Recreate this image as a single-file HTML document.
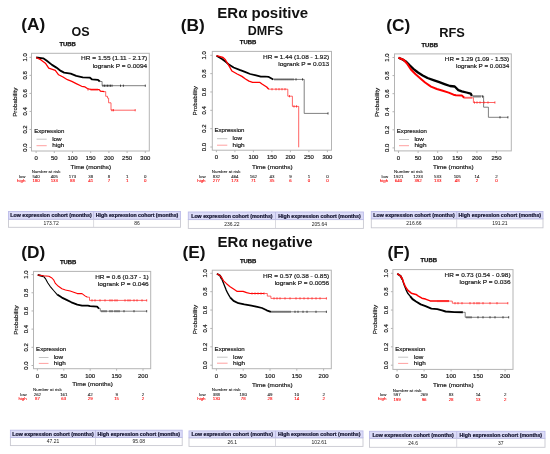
<!DOCTYPE html>
<html><head><meta charset="utf-8"><title>TUBB KM plots</title>
<style>
html,body{margin:0;padding:0;background:#fff;}
body{width:550px;height:454px;overflow:hidden;position:relative;}
svg{position:absolute;left:0;top:0;font-family:"Liberation Sans", sans-serif;filter:blur(0.35px);}
</style></head><body>
<svg width="550" height="454" viewBox="0 0 550 454">
<rect x="31.50" y="53.30" width="117.80" height="97.70" fill="none" stroke="#b4b4b4" stroke-width="1"/>
<line x1="29.50" y1="147.50" x2="31.50" y2="147.50" stroke="#b4b4b4" stroke-width="1"/>
<text x="26.57" y="147.50" font-size="5.2" text-anchor="middle" fill="#1a1a1a" transform="rotate(-90 26.57 147.50)" textLength="8.27" lengthAdjust="spacingAndGlyphs" stroke="#1a1a1a" stroke-width="0.18">0.0</text>
<line x1="29.50" y1="129.46" x2="31.50" y2="129.46" stroke="#b4b4b4" stroke-width="1"/>
<text x="26.57" y="129.46" font-size="5.2" text-anchor="middle" fill="#1a1a1a" transform="rotate(-90 26.57 129.46)" textLength="8.27" lengthAdjust="spacingAndGlyphs" stroke="#1a1a1a" stroke-width="0.18">0.2</text>
<line x1="29.50" y1="111.42" x2="31.50" y2="111.42" stroke="#b4b4b4" stroke-width="1"/>
<text x="26.57" y="111.42" font-size="5.2" text-anchor="middle" fill="#1a1a1a" transform="rotate(-90 26.57 111.42)" textLength="8.27" lengthAdjust="spacingAndGlyphs" stroke="#1a1a1a" stroke-width="0.18">0.4</text>
<line x1="29.50" y1="93.38" x2="31.50" y2="93.38" stroke="#b4b4b4" stroke-width="1"/>
<text x="26.57" y="93.38" font-size="5.2" text-anchor="middle" fill="#1a1a1a" transform="rotate(-90 26.57 93.38)" textLength="8.27" lengthAdjust="spacingAndGlyphs" stroke="#1a1a1a" stroke-width="0.18">0.6</text>
<line x1="29.50" y1="75.34" x2="31.50" y2="75.34" stroke="#b4b4b4" stroke-width="1"/>
<text x="26.57" y="75.34" font-size="5.2" text-anchor="middle" fill="#1a1a1a" transform="rotate(-90 26.57 75.34)" textLength="8.27" lengthAdjust="spacingAndGlyphs" stroke="#1a1a1a" stroke-width="0.18">0.8</text>
<line x1="29.50" y1="57.30" x2="31.50" y2="57.30" stroke="#b4b4b4" stroke-width="1"/>
<text x="26.57" y="57.30" font-size="5.2" text-anchor="middle" fill="#1a1a1a" transform="rotate(-90 26.57 57.30)" textLength="8.27" lengthAdjust="spacingAndGlyphs" stroke="#1a1a1a" stroke-width="0.18">1.0</text>
<text x="16.94" y="102.15" font-size="5.55" text-anchor="middle" fill="#1a1a1a" transform="rotate(-90 16.94 102.15)" textLength="29.34" lengthAdjust="spacingAndGlyphs" stroke="#1a1a1a" stroke-width="0.18">Probability</text>
<line x1="36.10" y1="151.00" x2="36.10" y2="153.00" stroke="#b4b4b4" stroke-width="1"/>
<text x="36.10" y="159.57" font-size="5.2" text-anchor="middle" fill="#1a1a1a" textLength="3.31" lengthAdjust="spacingAndGlyphs" stroke="#1a1a1a" stroke-width="0.18">0</text>
<line x1="54.30" y1="151.00" x2="54.30" y2="153.00" stroke="#b4b4b4" stroke-width="1"/>
<text x="54.30" y="159.57" font-size="5.2" text-anchor="middle" fill="#1a1a1a" textLength="6.62" lengthAdjust="spacingAndGlyphs" stroke="#1a1a1a" stroke-width="0.18">50</text>
<line x1="72.50" y1="151.00" x2="72.50" y2="153.00" stroke="#b4b4b4" stroke-width="1"/>
<text x="72.50" y="159.57" font-size="5.2" text-anchor="middle" fill="#1a1a1a" textLength="9.93" lengthAdjust="spacingAndGlyphs" stroke="#1a1a1a" stroke-width="0.18">100</text>
<line x1="90.70" y1="151.00" x2="90.70" y2="153.00" stroke="#b4b4b4" stroke-width="1"/>
<text x="90.70" y="159.57" font-size="5.2" text-anchor="middle" fill="#1a1a1a" textLength="9.93" lengthAdjust="spacingAndGlyphs" stroke="#1a1a1a" stroke-width="0.18">150</text>
<line x1="108.90" y1="151.00" x2="108.90" y2="153.00" stroke="#b4b4b4" stroke-width="1"/>
<text x="108.90" y="159.57" font-size="5.2" text-anchor="middle" fill="#1a1a1a" textLength="9.93" lengthAdjust="spacingAndGlyphs" stroke="#1a1a1a" stroke-width="0.18">200</text>
<line x1="127.10" y1="151.00" x2="127.10" y2="153.00" stroke="#b4b4b4" stroke-width="1"/>
<text x="127.10" y="159.57" font-size="5.2" text-anchor="middle" fill="#1a1a1a" textLength="9.93" lengthAdjust="spacingAndGlyphs" stroke="#1a1a1a" stroke-width="0.18">250</text>
<line x1="145.30" y1="151.00" x2="145.30" y2="153.00" stroke="#b4b4b4" stroke-width="1"/>
<text x="145.30" y="159.57" font-size="5.2" text-anchor="middle" fill="#1a1a1a" textLength="9.93" lengthAdjust="spacingAndGlyphs" stroke="#1a1a1a" stroke-width="0.18">300</text>
<text x="90.80" y="168.56" font-size="5.55" text-anchor="middle" fill="#1a1a1a" textLength="40.58" lengthAdjust="spacingAndGlyphs" stroke="#1a1a1a" stroke-width="0.18">Time (months)</text>
<text x="147.20" y="60.40" font-size="5.65" text-anchor="end" fill="#1a1a1a" textLength="66.08" lengthAdjust="spacingAndGlyphs" stroke="#1a1a1a" stroke-width="0.18">HR = 1.55 (1.11 - 2.17)</text>
<text x="147.20" y="67.99" font-size="5.65" text-anchor="end" fill="#1a1a1a" textLength="54.55" lengthAdjust="spacingAndGlyphs" stroke="#1a1a1a" stroke-width="0.18">logrank P = 0.0094</text>
<text x="34.20" y="132.97" font-size="5.55" text-anchor="start" fill="#1a1a1a" textLength="30.13" lengthAdjust="spacingAndGlyphs" stroke="#1a1a1a" stroke-width="0.18">Expression</text>
<line x1="36.50" y1="139.20" x2="46.70" y2="139.20" stroke="#c4c4c4" stroke-width="1"/>
<line x1="36.50" y1="145.70" x2="46.70" y2="145.70" stroke="#ffa0a0" stroke-width="1"/>
<text x="52.20" y="140.86" font-size="5.55" text-anchor="start" fill="#1a1a1a" textLength="9.48" lengthAdjust="spacingAndGlyphs" stroke="#1a1a1a" stroke-width="0.18">low</text>
<text x="52.20" y="147.36" font-size="5.55" text-anchor="start" fill="#1a1a1a" textLength="12.10" lengthAdjust="spacingAndGlyphs" stroke="#1a1a1a" stroke-width="0.18">high</text>
<text x="31.70" y="173.16" font-size="3.85" text-anchor="start" fill="#1a1a1a" textLength="28.67" lengthAdjust="spacingAndGlyphs" stroke="#1a1a1a" stroke-width="0.08">Number at risk</text>
<text x="25.40" y="177.66" font-size="3.85" text-anchor="end" fill="#1a1a1a" textLength="6.57" lengthAdjust="spacingAndGlyphs" stroke="#1a1a1a" stroke-width="0.08">low</text>
<text x="25.40" y="182.16" font-size="3.85" text-anchor="end" fill="#ff0000" textLength="8.39" lengthAdjust="spacingAndGlyphs" stroke="#ff0000" stroke-width="0.08">high</text>
<text x="36.10" y="177.89" font-size="3.85" text-anchor="middle" fill="#1a1a1a" textLength="7.35" lengthAdjust="spacingAndGlyphs" stroke="#1a1a1a" stroke-width="0.08">540</text>
<text x="36.10" y="182.39" font-size="3.85" text-anchor="middle" fill="#ff0000" textLength="7.35" lengthAdjust="spacingAndGlyphs" stroke="#ff0000" stroke-width="0.08">180</text>
<text x="54.30" y="177.89" font-size="3.85" text-anchor="middle" fill="#1a1a1a" textLength="7.35" lengthAdjust="spacingAndGlyphs" stroke="#1a1a1a" stroke-width="0.08">405</text>
<text x="54.30" y="182.39" font-size="3.85" text-anchor="middle" fill="#ff0000" textLength="7.35" lengthAdjust="spacingAndGlyphs" stroke="#ff0000" stroke-width="0.08">133</text>
<text x="72.50" y="177.89" font-size="3.85" text-anchor="middle" fill="#1a1a1a" textLength="7.35" lengthAdjust="spacingAndGlyphs" stroke="#1a1a1a" stroke-width="0.08">173</text>
<text x="72.50" y="182.39" font-size="3.85" text-anchor="middle" fill="#ff0000" textLength="4.90" lengthAdjust="spacingAndGlyphs" stroke="#ff0000" stroke-width="0.08">88</text>
<text x="90.70" y="177.89" font-size="3.85" text-anchor="middle" fill="#1a1a1a" textLength="4.90" lengthAdjust="spacingAndGlyphs" stroke="#1a1a1a" stroke-width="0.08">38</text>
<text x="90.70" y="182.39" font-size="3.85" text-anchor="middle" fill="#ff0000" textLength="4.90" lengthAdjust="spacingAndGlyphs" stroke="#ff0000" stroke-width="0.08">41</text>
<text x="108.90" y="177.89" font-size="3.85" text-anchor="middle" fill="#1a1a1a" textLength="2.45" lengthAdjust="spacingAndGlyphs" stroke="#1a1a1a" stroke-width="0.08">8</text>
<text x="108.90" y="182.39" font-size="3.85" text-anchor="middle" fill="#ff0000" textLength="2.45" lengthAdjust="spacingAndGlyphs" stroke="#ff0000" stroke-width="0.08">7</text>
<text x="127.10" y="177.89" font-size="3.85" text-anchor="middle" fill="#1a1a1a" textLength="2.45" lengthAdjust="spacingAndGlyphs" stroke="#1a1a1a" stroke-width="0.08">1</text>
<text x="127.10" y="182.39" font-size="3.85" text-anchor="middle" fill="#ff0000" textLength="2.45" lengthAdjust="spacingAndGlyphs" stroke="#ff0000" stroke-width="0.08">1</text>
<text x="145.30" y="177.89" font-size="3.85" text-anchor="middle" fill="#1a1a1a" textLength="2.45" lengthAdjust="spacingAndGlyphs" stroke="#1a1a1a" stroke-width="0.08">0</text>
<text x="145.30" y="182.39" font-size="3.85" text-anchor="middle" fill="#ff0000" textLength="2.45" lengthAdjust="spacingAndGlyphs" stroke="#ff0000" stroke-width="0.08">0</text>
<path d="M36.10,57.50 L43.20,58.30 L46.50,60.50 L52.00,64.90 L56.40,67.60 L60.80,70.90 L64.10,72.60 L70.70,73.70 L76.20,75.90 L82.80,77.30 L89.70,77.60 L92.10,79.40 L98.00,79.80 L99.80,81.50" fill="none" stroke="#000" stroke-width="1.85" stroke-linejoin="round"/>
<path d="M99.80,81.50 H102.10 V85.70 H145.30 V85.70" fill="none" stroke="#555" stroke-width="0.75"/>
<path d="M36.10,57.50 L41.00,59.90 L45.40,63.20 L48.70,68.20 L55.30,70.40 L58.60,74.80 L63.00,77.00 L67.40,79.70 L71.80,81.40 L76.20,83.60 L81.70,86.30 L85.00,86.90 L87.40,88.60 L90.90,89.50 L99.20,89.50 L100.40,91.20 L104.50,91.60" fill="none" stroke="#ff0000" stroke-width="1.25" stroke-linejoin="round"/>
<path d="M104.50,91.60 H105.70 V96.30 H107.50 V98.10 H108.60 V102.80 H111.00 V110.20 H135.20 V110.20" fill="none" stroke="#ff3030" stroke-width="0.75"/>
<rect x="212.30" y="51.40" width="119.20" height="98.80" fill="none" stroke="#b4b4b4" stroke-width="1"/>
<line x1="210.30" y1="147.00" x2="212.30" y2="147.00" stroke="#b4b4b4" stroke-width="1"/>
<text x="206.27" y="147.00" font-size="5.2" text-anchor="middle" fill="#1a1a1a" transform="rotate(-90 206.27 147.00)" textLength="8.27" lengthAdjust="spacingAndGlyphs" stroke="#1a1a1a" stroke-width="0.18">0.0</text>
<line x1="210.30" y1="128.66" x2="212.30" y2="128.66" stroke="#b4b4b4" stroke-width="1"/>
<text x="206.27" y="128.66" font-size="5.2" text-anchor="middle" fill="#1a1a1a" transform="rotate(-90 206.27 128.66)" textLength="8.27" lengthAdjust="spacingAndGlyphs" stroke="#1a1a1a" stroke-width="0.18">0.2</text>
<line x1="210.30" y1="110.32" x2="212.30" y2="110.32" stroke="#b4b4b4" stroke-width="1"/>
<text x="206.27" y="110.32" font-size="5.2" text-anchor="middle" fill="#1a1a1a" transform="rotate(-90 206.27 110.32)" textLength="8.27" lengthAdjust="spacingAndGlyphs" stroke="#1a1a1a" stroke-width="0.18">0.4</text>
<line x1="210.30" y1="91.98" x2="212.30" y2="91.98" stroke="#b4b4b4" stroke-width="1"/>
<text x="206.27" y="91.98" font-size="5.2" text-anchor="middle" fill="#1a1a1a" transform="rotate(-90 206.27 91.98)" textLength="8.27" lengthAdjust="spacingAndGlyphs" stroke="#1a1a1a" stroke-width="0.18">0.6</text>
<line x1="210.30" y1="73.64" x2="212.30" y2="73.64" stroke="#b4b4b4" stroke-width="1"/>
<text x="206.27" y="73.64" font-size="5.2" text-anchor="middle" fill="#1a1a1a" transform="rotate(-90 206.27 73.64)" textLength="8.27" lengthAdjust="spacingAndGlyphs" stroke="#1a1a1a" stroke-width="0.18">0.8</text>
<line x1="210.30" y1="55.30" x2="212.30" y2="55.30" stroke="#b4b4b4" stroke-width="1"/>
<text x="206.27" y="55.30" font-size="5.2" text-anchor="middle" fill="#1a1a1a" transform="rotate(-90 206.27 55.30)" textLength="8.27" lengthAdjust="spacingAndGlyphs" stroke="#1a1a1a" stroke-width="0.18">1.0</text>
<text x="196.64" y="100.80" font-size="5.55" text-anchor="middle" fill="#1a1a1a" transform="rotate(-90 196.64 100.80)" textLength="29.34" lengthAdjust="spacingAndGlyphs" stroke="#1a1a1a" stroke-width="0.18">Probability</text>
<line x1="216.40" y1="150.20" x2="216.40" y2="152.20" stroke="#b4b4b4" stroke-width="1"/>
<text x="216.40" y="159.07" font-size="5.2" text-anchor="middle" fill="#1a1a1a" textLength="3.31" lengthAdjust="spacingAndGlyphs" stroke="#1a1a1a" stroke-width="0.18">0</text>
<line x1="234.90" y1="150.20" x2="234.90" y2="152.20" stroke="#b4b4b4" stroke-width="1"/>
<text x="234.90" y="159.07" font-size="5.2" text-anchor="middle" fill="#1a1a1a" textLength="6.62" lengthAdjust="spacingAndGlyphs" stroke="#1a1a1a" stroke-width="0.18">50</text>
<line x1="253.40" y1="150.20" x2="253.40" y2="152.20" stroke="#b4b4b4" stroke-width="1"/>
<text x="253.40" y="159.07" font-size="5.2" text-anchor="middle" fill="#1a1a1a" textLength="9.93" lengthAdjust="spacingAndGlyphs" stroke="#1a1a1a" stroke-width="0.18">100</text>
<line x1="271.90" y1="150.20" x2="271.90" y2="152.20" stroke="#b4b4b4" stroke-width="1"/>
<text x="271.90" y="159.07" font-size="5.2" text-anchor="middle" fill="#1a1a1a" textLength="9.93" lengthAdjust="spacingAndGlyphs" stroke="#1a1a1a" stroke-width="0.18">150</text>
<line x1="290.40" y1="150.20" x2="290.40" y2="152.20" stroke="#b4b4b4" stroke-width="1"/>
<text x="290.40" y="159.07" font-size="5.2" text-anchor="middle" fill="#1a1a1a" textLength="9.93" lengthAdjust="spacingAndGlyphs" stroke="#1a1a1a" stroke-width="0.18">200</text>
<line x1="308.90" y1="150.20" x2="308.90" y2="152.20" stroke="#b4b4b4" stroke-width="1"/>
<text x="308.90" y="159.07" font-size="5.2" text-anchor="middle" fill="#1a1a1a" textLength="9.93" lengthAdjust="spacingAndGlyphs" stroke="#1a1a1a" stroke-width="0.18">250</text>
<line x1="327.40" y1="150.20" x2="327.40" y2="152.20" stroke="#b4b4b4" stroke-width="1"/>
<text x="327.40" y="159.07" font-size="5.2" text-anchor="middle" fill="#1a1a1a" textLength="9.93" lengthAdjust="spacingAndGlyphs" stroke="#1a1a1a" stroke-width="0.18">300</text>
<text x="272.30" y="168.56" font-size="5.55" text-anchor="middle" fill="#1a1a1a" textLength="40.58" lengthAdjust="spacingAndGlyphs" stroke="#1a1a1a" stroke-width="0.18">Time (months)</text>
<text x="329.20" y="59.20" font-size="5.65" text-anchor="end" fill="#1a1a1a" textLength="66.08" lengthAdjust="spacingAndGlyphs" stroke="#1a1a1a" stroke-width="0.18">HR = 1.44 (1.08 - 1.92)</text>
<text x="329.20" y="65.99" font-size="5.65" text-anchor="end" fill="#1a1a1a" textLength="50.96" lengthAdjust="spacingAndGlyphs" stroke="#1a1a1a" stroke-width="0.18">logrank P = 0.013</text>
<text x="214.40" y="132.47" font-size="5.55" text-anchor="start" fill="#1a1a1a" textLength="30.13" lengthAdjust="spacingAndGlyphs" stroke="#1a1a1a" stroke-width="0.18">Expression</text>
<line x1="217.00" y1="138.70" x2="227.30" y2="138.70" stroke="#c4c4c4" stroke-width="1"/>
<line x1="217.00" y1="145.20" x2="227.30" y2="145.20" stroke="#ffa0a0" stroke-width="1"/>
<text x="232.60" y="140.36" font-size="5.55" text-anchor="start" fill="#1a1a1a" textLength="9.48" lengthAdjust="spacingAndGlyphs" stroke="#1a1a1a" stroke-width="0.18">low</text>
<text x="232.60" y="146.86" font-size="5.55" text-anchor="start" fill="#1a1a1a" textLength="12.10" lengthAdjust="spacingAndGlyphs" stroke="#1a1a1a" stroke-width="0.18">high</text>
<text x="211.80" y="173.16" font-size="3.85" text-anchor="start" fill="#1a1a1a" textLength="28.67" lengthAdjust="spacingAndGlyphs" stroke="#1a1a1a" stroke-width="0.08">Number at risk</text>
<text x="205.60" y="177.75" font-size="3.85" text-anchor="end" fill="#1a1a1a" textLength="6.57" lengthAdjust="spacingAndGlyphs" stroke="#1a1a1a" stroke-width="0.08">low</text>
<text x="205.60" y="182.16" font-size="3.85" text-anchor="end" fill="#ff0000" textLength="8.39" lengthAdjust="spacingAndGlyphs" stroke="#ff0000" stroke-width="0.08">high</text>
<text x="216.40" y="177.99" font-size="3.85" text-anchor="middle" fill="#1a1a1a" textLength="7.35" lengthAdjust="spacingAndGlyphs" stroke="#1a1a1a" stroke-width="0.08">832</text>
<text x="216.40" y="182.39" font-size="3.85" text-anchor="middle" fill="#ff0000" textLength="7.35" lengthAdjust="spacingAndGlyphs" stroke="#ff0000" stroke-width="0.08">277</text>
<text x="234.90" y="177.99" font-size="3.85" text-anchor="middle" fill="#1a1a1a" textLength="7.35" lengthAdjust="spacingAndGlyphs" stroke="#1a1a1a" stroke-width="0.08">464</text>
<text x="234.90" y="182.39" font-size="3.85" text-anchor="middle" fill="#ff0000" textLength="7.35" lengthAdjust="spacingAndGlyphs" stroke="#ff0000" stroke-width="0.08">173</text>
<text x="253.40" y="177.99" font-size="3.85" text-anchor="middle" fill="#1a1a1a" textLength="7.35" lengthAdjust="spacingAndGlyphs" stroke="#1a1a1a" stroke-width="0.08">162</text>
<text x="253.40" y="182.39" font-size="3.85" text-anchor="middle" fill="#ff0000" textLength="4.90" lengthAdjust="spacingAndGlyphs" stroke="#ff0000" stroke-width="0.08">71</text>
<text x="271.90" y="177.99" font-size="3.85" text-anchor="middle" fill="#1a1a1a" textLength="4.90" lengthAdjust="spacingAndGlyphs" stroke="#1a1a1a" stroke-width="0.08">43</text>
<text x="271.90" y="182.39" font-size="3.85" text-anchor="middle" fill="#ff0000" textLength="4.90" lengthAdjust="spacingAndGlyphs" stroke="#ff0000" stroke-width="0.08">35</text>
<text x="290.40" y="177.99" font-size="3.85" text-anchor="middle" fill="#1a1a1a" textLength="2.45" lengthAdjust="spacingAndGlyphs" stroke="#1a1a1a" stroke-width="0.08">9</text>
<text x="290.40" y="182.39" font-size="3.85" text-anchor="middle" fill="#ff0000" textLength="2.45" lengthAdjust="spacingAndGlyphs" stroke="#ff0000" stroke-width="0.08">6</text>
<text x="308.90" y="177.99" font-size="3.85" text-anchor="middle" fill="#1a1a1a" textLength="2.45" lengthAdjust="spacingAndGlyphs" stroke="#1a1a1a" stroke-width="0.08">1</text>
<text x="308.90" y="182.39" font-size="3.85" text-anchor="middle" fill="#ff0000" textLength="2.45" lengthAdjust="spacingAndGlyphs" stroke="#ff0000" stroke-width="0.08">0</text>
<text x="327.40" y="177.99" font-size="3.85" text-anchor="middle" fill="#1a1a1a" textLength="2.45" lengthAdjust="spacingAndGlyphs" stroke="#1a1a1a" stroke-width="0.08">0</text>
<text x="327.40" y="182.39" font-size="3.85" text-anchor="middle" fill="#ff0000" textLength="2.45" lengthAdjust="spacingAndGlyphs" stroke="#ff0000" stroke-width="0.08">0</text>
<path d="M216.50,55.70 L219.50,57.50 L222.40,59.20 L225.40,61.60 L228.90,64.50 L233.60,67.50 L239.60,69.90 L244.30,71.60 L250.20,74.00 L256.10,75.40 L260.80,76.60 L265.00,76.50 L268.80,76.90 L273.30,79.40" fill="none" stroke="#000" stroke-width="1.75" stroke-linejoin="round"/>
<path d="M273.30,79.40 H304.20 V113.40 H328.00 V113.40" fill="none" stroke="#555" stroke-width="0.75"/>
<path d="M216.50,55.70 L223.00,57.50 L225.40,59.80 L228.90,65.70 L231.90,71.00 L237.20,74.00 L241.90,76.40 L245.50,79.00 L249.00,81.10 L252.60,82.30 L259.60,82.30 L262.00,84.00 L266.70,87.00 L268.80,89.20" fill="none" stroke="#ff0000" stroke-width="1.35" stroke-linejoin="round"/>
<path d="M268.80,89.20 H287.80 V96.20 H292.40 V106.40 H298.70 V147.30" fill="none" stroke="#ff3030" stroke-width="0.75"/>
<rect x="394.50" y="53.90" width="116.80" height="97.00" fill="none" stroke="#b4b4b4" stroke-width="1"/>
<line x1="392.50" y1="147.90" x2="394.50" y2="147.90" stroke="#b4b4b4" stroke-width="1"/>
<text x="388.57" y="147.90" font-size="5.2" text-anchor="middle" fill="#1a1a1a" transform="rotate(-90 388.57 147.90)" textLength="8.27" lengthAdjust="spacingAndGlyphs" stroke="#1a1a1a" stroke-width="0.18">0.0</text>
<line x1="392.50" y1="129.82" x2="394.50" y2="129.82" stroke="#b4b4b4" stroke-width="1"/>
<text x="388.57" y="129.82" font-size="5.2" text-anchor="middle" fill="#1a1a1a" transform="rotate(-90 388.57 129.82)" textLength="8.27" lengthAdjust="spacingAndGlyphs" stroke="#1a1a1a" stroke-width="0.18">0.2</text>
<line x1="392.50" y1="111.74" x2="394.50" y2="111.74" stroke="#b4b4b4" stroke-width="1"/>
<text x="388.57" y="111.74" font-size="5.2" text-anchor="middle" fill="#1a1a1a" transform="rotate(-90 388.57 111.74)" textLength="8.27" lengthAdjust="spacingAndGlyphs" stroke="#1a1a1a" stroke-width="0.18">0.4</text>
<line x1="392.50" y1="93.66" x2="394.50" y2="93.66" stroke="#b4b4b4" stroke-width="1"/>
<text x="388.57" y="93.66" font-size="5.2" text-anchor="middle" fill="#1a1a1a" transform="rotate(-90 388.57 93.66)" textLength="8.27" lengthAdjust="spacingAndGlyphs" stroke="#1a1a1a" stroke-width="0.18">0.6</text>
<line x1="392.50" y1="75.58" x2="394.50" y2="75.58" stroke="#b4b4b4" stroke-width="1"/>
<text x="388.57" y="75.58" font-size="5.2" text-anchor="middle" fill="#1a1a1a" transform="rotate(-90 388.57 75.58)" textLength="8.27" lengthAdjust="spacingAndGlyphs" stroke="#1a1a1a" stroke-width="0.18">0.8</text>
<line x1="392.50" y1="57.50" x2="394.50" y2="57.50" stroke="#b4b4b4" stroke-width="1"/>
<text x="388.57" y="57.50" font-size="5.2" text-anchor="middle" fill="#1a1a1a" transform="rotate(-90 388.57 57.50)" textLength="8.27" lengthAdjust="spacingAndGlyphs" stroke="#1a1a1a" stroke-width="0.18">1.0</text>
<text x="378.84" y="102.40" font-size="5.55" text-anchor="middle" fill="#1a1a1a" transform="rotate(-90 378.84 102.40)" textLength="29.34" lengthAdjust="spacingAndGlyphs" stroke="#1a1a1a" stroke-width="0.18">Probability</text>
<line x1="398.50" y1="150.90" x2="398.50" y2="152.90" stroke="#b4b4b4" stroke-width="1"/>
<text x="398.50" y="159.57" font-size="5.2" text-anchor="middle" fill="#1a1a1a" textLength="3.31" lengthAdjust="spacingAndGlyphs" stroke="#1a1a1a" stroke-width="0.18">0</text>
<line x1="418.10" y1="150.90" x2="418.10" y2="152.90" stroke="#b4b4b4" stroke-width="1"/>
<text x="418.10" y="159.57" font-size="5.2" text-anchor="middle" fill="#1a1a1a" textLength="6.62" lengthAdjust="spacingAndGlyphs" stroke="#1a1a1a" stroke-width="0.18">50</text>
<line x1="437.70" y1="150.90" x2="437.70" y2="152.90" stroke="#b4b4b4" stroke-width="1"/>
<text x="437.70" y="159.57" font-size="5.2" text-anchor="middle" fill="#1a1a1a" textLength="9.93" lengthAdjust="spacingAndGlyphs" stroke="#1a1a1a" stroke-width="0.18">100</text>
<line x1="457.30" y1="150.90" x2="457.30" y2="152.90" stroke="#b4b4b4" stroke-width="1"/>
<text x="457.30" y="159.57" font-size="5.2" text-anchor="middle" fill="#1a1a1a" textLength="9.93" lengthAdjust="spacingAndGlyphs" stroke="#1a1a1a" stroke-width="0.18">150</text>
<line x1="476.90" y1="150.90" x2="476.90" y2="152.90" stroke="#b4b4b4" stroke-width="1"/>
<text x="476.90" y="159.57" font-size="5.2" text-anchor="middle" fill="#1a1a1a" textLength="9.93" lengthAdjust="spacingAndGlyphs" stroke="#1a1a1a" stroke-width="0.18">200</text>
<line x1="496.50" y1="150.90" x2="496.50" y2="152.90" stroke="#b4b4b4" stroke-width="1"/>
<text x="496.50" y="159.57" font-size="5.2" text-anchor="middle" fill="#1a1a1a" textLength="9.93" lengthAdjust="spacingAndGlyphs" stroke="#1a1a1a" stroke-width="0.18">250</text>
<text x="453.30" y="168.56" font-size="5.55" text-anchor="middle" fill="#1a1a1a" textLength="40.58" lengthAdjust="spacingAndGlyphs" stroke="#1a1a1a" stroke-width="0.18">Time (months)</text>
<text x="509.20" y="60.85" font-size="5.5" text-anchor="end" fill="#1a1a1a" textLength="64.32" lengthAdjust="spacingAndGlyphs" stroke="#1a1a1a" stroke-width="0.18">HR = 1.29 (1.09 - 1.53)</text>
<text x="509.20" y="68.25" font-size="5.5" text-anchor="end" fill="#1a1a1a" textLength="53.10" lengthAdjust="spacingAndGlyphs" stroke="#1a1a1a" stroke-width="0.18">logrank P = 0.0034</text>
<text x="396.80" y="133.26" font-size="5.55" text-anchor="start" fill="#1a1a1a" textLength="30.13" lengthAdjust="spacingAndGlyphs" stroke="#1a1a1a" stroke-width="0.18">Expression</text>
<line x1="399.00" y1="139.50" x2="409.00" y2="139.50" stroke="#c4c4c4" stroke-width="1"/>
<line x1="399.00" y1="145.70" x2="409.00" y2="145.70" stroke="#ffa0a0" stroke-width="1"/>
<text x="414.40" y="141.16" font-size="5.55" text-anchor="start" fill="#1a1a1a" textLength="9.48" lengthAdjust="spacingAndGlyphs" stroke="#1a1a1a" stroke-width="0.18">low</text>
<text x="414.40" y="147.36" font-size="5.55" text-anchor="start" fill="#1a1a1a" textLength="12.10" lengthAdjust="spacingAndGlyphs" stroke="#1a1a1a" stroke-width="0.18">high</text>
<text x="394.10" y="173.35" font-size="3.85" text-anchor="start" fill="#1a1a1a" textLength="28.67" lengthAdjust="spacingAndGlyphs" stroke="#1a1a1a" stroke-width="0.08">Number at risk</text>
<text x="388.20" y="177.85" font-size="3.85" text-anchor="end" fill="#1a1a1a" textLength="6.57" lengthAdjust="spacingAndGlyphs" stroke="#1a1a1a" stroke-width="0.08">low</text>
<text x="388.20" y="182.25" font-size="3.85" text-anchor="end" fill="#ff0000" textLength="8.39" lengthAdjust="spacingAndGlyphs" stroke="#ff0000" stroke-width="0.08">high</text>
<text x="398.50" y="178.09" font-size="3.85" text-anchor="middle" fill="#1a1a1a" textLength="9.80" lengthAdjust="spacingAndGlyphs" stroke="#1a1a1a" stroke-width="0.08">1921</text>
<text x="398.50" y="182.49" font-size="3.85" text-anchor="middle" fill="#ff0000" textLength="7.35" lengthAdjust="spacingAndGlyphs" stroke="#ff0000" stroke-width="0.08">640</text>
<text x="418.10" y="178.09" font-size="3.85" text-anchor="middle" fill="#1a1a1a" textLength="9.80" lengthAdjust="spacingAndGlyphs" stroke="#1a1a1a" stroke-width="0.08">1233</text>
<text x="418.10" y="182.49" font-size="3.85" text-anchor="middle" fill="#ff0000" textLength="7.35" lengthAdjust="spacingAndGlyphs" stroke="#ff0000" stroke-width="0.08">392</text>
<text x="437.70" y="178.09" font-size="3.85" text-anchor="middle" fill="#1a1a1a" textLength="7.35" lengthAdjust="spacingAndGlyphs" stroke="#1a1a1a" stroke-width="0.08">533</text>
<text x="437.70" y="182.49" font-size="3.85" text-anchor="middle" fill="#ff0000" textLength="7.35" lengthAdjust="spacingAndGlyphs" stroke="#ff0000" stroke-width="0.08">133</text>
<text x="457.30" y="178.09" font-size="3.85" text-anchor="middle" fill="#1a1a1a" textLength="7.35" lengthAdjust="spacingAndGlyphs" stroke="#1a1a1a" stroke-width="0.08">105</text>
<text x="457.30" y="182.49" font-size="3.85" text-anchor="middle" fill="#ff0000" textLength="4.90" lengthAdjust="spacingAndGlyphs" stroke="#ff0000" stroke-width="0.08">48</text>
<text x="476.90" y="178.09" font-size="3.85" text-anchor="middle" fill="#1a1a1a" textLength="4.90" lengthAdjust="spacingAndGlyphs" stroke="#1a1a1a" stroke-width="0.08">14</text>
<text x="476.90" y="182.49" font-size="3.85" text-anchor="middle" fill="#ff0000" textLength="2.45" lengthAdjust="spacingAndGlyphs" stroke="#ff0000" stroke-width="0.08">2</text>
<text x="496.50" y="178.09" font-size="3.85" text-anchor="middle" fill="#1a1a1a" textLength="2.45" lengthAdjust="spacingAndGlyphs" stroke="#1a1a1a" stroke-width="0.08">2</text>
<text x="496.50" y="182.49" font-size="3.85" text-anchor="middle" fill="#ff0000" textLength="2.45" lengthAdjust="spacingAndGlyphs" stroke="#ff0000" stroke-width="0.08">0</text>
<path d="M398.50,57.70 L402.60,59.50 L406.20,61.80 L409.70,65.40 L413.30,68.90 L418.00,72.50 L422.70,75.40 L427.50,78.00 L433.40,80.10 L439.30,82.20 L445.20,84.30 L450.00,86.00 L454.70,86.50 L458.30,90.10 L461.80,91.30 L466.50,92.50 L470.70,93.60 L471.90,96.00" fill="none" stroke="#000" stroke-width="2.3" stroke-linejoin="round"/>
<path d="M471.90,96.00 H483.60 V107.20 H488.40 V117.30 H507.90 V117.30" fill="none" stroke="#555" stroke-width="0.75"/>
<path d="M398.50,57.70 L403.80,60.00 L407.40,64.20 L410.90,69.50 L415.60,74.20 L420.40,78.40 L425.10,82.50 L431.00,86.60 L436.90,89.00 L442.80,90.80 L448.70,92.60 L453.50,94.70 L455.90,95.20 L461.80,95.40 L464.20,97.80" fill="none" stroke="#ff0000" stroke-width="2.0" stroke-linejoin="round"/>
<path d="M464.20,97.80 H473.40 V102.50 H494.90 V102.50" fill="none" stroke="#ff3030" stroke-width="0.75"/>
<rect x="33.50" y="271.40" width="117.20" height="97.30" fill="none" stroke="#b4b4b4" stroke-width="1"/>
<line x1="31.50" y1="365.50" x2="33.50" y2="365.50" stroke="#b4b4b4" stroke-width="1"/>
<text x="27.87" y="365.50" font-size="5.2" text-anchor="middle" fill="#1a1a1a" transform="rotate(-90 27.87 365.50)" textLength="8.27" lengthAdjust="spacingAndGlyphs" stroke="#1a1a1a" stroke-width="0.18">0.0</text>
<line x1="31.50" y1="347.32" x2="33.50" y2="347.32" stroke="#b4b4b4" stroke-width="1"/>
<text x="27.87" y="347.32" font-size="5.2" text-anchor="middle" fill="#1a1a1a" transform="rotate(-90 27.87 347.32)" textLength="8.27" lengthAdjust="spacingAndGlyphs" stroke="#1a1a1a" stroke-width="0.18">0.2</text>
<line x1="31.50" y1="329.14" x2="33.50" y2="329.14" stroke="#b4b4b4" stroke-width="1"/>
<text x="27.87" y="329.14" font-size="5.2" text-anchor="middle" fill="#1a1a1a" transform="rotate(-90 27.87 329.14)" textLength="8.27" lengthAdjust="spacingAndGlyphs" stroke="#1a1a1a" stroke-width="0.18">0.4</text>
<line x1="31.50" y1="310.96" x2="33.50" y2="310.96" stroke="#b4b4b4" stroke-width="1"/>
<text x="27.87" y="310.96" font-size="5.2" text-anchor="middle" fill="#1a1a1a" transform="rotate(-90 27.87 310.96)" textLength="8.27" lengthAdjust="spacingAndGlyphs" stroke="#1a1a1a" stroke-width="0.18">0.6</text>
<line x1="31.50" y1="292.78" x2="33.50" y2="292.78" stroke="#b4b4b4" stroke-width="1"/>
<text x="27.87" y="292.78" font-size="5.2" text-anchor="middle" fill="#1a1a1a" transform="rotate(-90 27.87 292.78)" textLength="8.27" lengthAdjust="spacingAndGlyphs" stroke="#1a1a1a" stroke-width="0.18">0.8</text>
<line x1="31.50" y1="274.60" x2="33.50" y2="274.60" stroke="#b4b4b4" stroke-width="1"/>
<text x="27.87" y="274.60" font-size="5.2" text-anchor="middle" fill="#1a1a1a" transform="rotate(-90 27.87 274.60)" textLength="8.27" lengthAdjust="spacingAndGlyphs" stroke="#1a1a1a" stroke-width="0.18">1.0</text>
<text x="18.14" y="320.05" font-size="5.55" text-anchor="middle" fill="#1a1a1a" transform="rotate(-90 18.14 320.05)" textLength="29.34" lengthAdjust="spacingAndGlyphs" stroke="#1a1a1a" stroke-width="0.18">Probability</text>
<line x1="37.40" y1="368.70" x2="37.40" y2="370.70" stroke="#b4b4b4" stroke-width="1"/>
<text x="37.40" y="377.57" font-size="5.2" text-anchor="middle" fill="#1a1a1a" textLength="3.31" lengthAdjust="spacingAndGlyphs" stroke="#1a1a1a" stroke-width="0.18">0</text>
<line x1="63.80" y1="368.70" x2="63.80" y2="370.70" stroke="#b4b4b4" stroke-width="1"/>
<text x="63.80" y="377.57" font-size="5.2" text-anchor="middle" fill="#1a1a1a" textLength="6.62" lengthAdjust="spacingAndGlyphs" stroke="#1a1a1a" stroke-width="0.18">50</text>
<line x1="90.20" y1="368.70" x2="90.20" y2="370.70" stroke="#b4b4b4" stroke-width="1"/>
<text x="90.20" y="377.57" font-size="5.2" text-anchor="middle" fill="#1a1a1a" textLength="9.93" lengthAdjust="spacingAndGlyphs" stroke="#1a1a1a" stroke-width="0.18">100</text>
<line x1="116.60" y1="368.70" x2="116.60" y2="370.70" stroke="#b4b4b4" stroke-width="1"/>
<text x="116.60" y="377.57" font-size="5.2" text-anchor="middle" fill="#1a1a1a" textLength="9.93" lengthAdjust="spacingAndGlyphs" stroke="#1a1a1a" stroke-width="0.18">150</text>
<line x1="143.00" y1="368.70" x2="143.00" y2="370.70" stroke="#b4b4b4" stroke-width="1"/>
<text x="143.00" y="377.57" font-size="5.2" text-anchor="middle" fill="#1a1a1a" textLength="9.93" lengthAdjust="spacingAndGlyphs" stroke="#1a1a1a" stroke-width="0.18">200</text>
<text x="92.50" y="386.17" font-size="5.55" text-anchor="middle" fill="#1a1a1a" textLength="40.58" lengthAdjust="spacingAndGlyphs" stroke="#1a1a1a" stroke-width="0.18">Time (months)</text>
<text x="148.70" y="278.89" font-size="5.65" text-anchor="end" fill="#1a1a1a" textLength="53.50" lengthAdjust="spacingAndGlyphs" stroke="#1a1a1a" stroke-width="0.18">HR = 0.6 (0.37 - 1)</text>
<text x="148.70" y="285.50" font-size="5.65" text-anchor="end" fill="#1a1a1a" textLength="50.96" lengthAdjust="spacingAndGlyphs" stroke="#1a1a1a" stroke-width="0.18">logrank P = 0.046</text>
<text x="36.10" y="350.97" font-size="5.55" text-anchor="start" fill="#1a1a1a" textLength="30.13" lengthAdjust="spacingAndGlyphs" stroke="#1a1a1a" stroke-width="0.18">Expression</text>
<line x1="38.80" y1="357.50" x2="48.50" y2="357.50" stroke="#c4c4c4" stroke-width="1"/>
<line x1="38.80" y1="363.40" x2="48.50" y2="363.40" stroke="#ffa0a0" stroke-width="1"/>
<text x="53.70" y="359.17" font-size="5.55" text-anchor="start" fill="#1a1a1a" textLength="9.48" lengthAdjust="spacingAndGlyphs" stroke="#1a1a1a" stroke-width="0.18">low</text>
<text x="53.70" y="365.06" font-size="5.55" text-anchor="start" fill="#1a1a1a" textLength="12.10" lengthAdjust="spacingAndGlyphs" stroke="#1a1a1a" stroke-width="0.18">high</text>
<text x="33.10" y="390.95" font-size="3.85" text-anchor="start" fill="#1a1a1a" textLength="28.67" lengthAdjust="spacingAndGlyphs" stroke="#1a1a1a" stroke-width="0.08">Number at risk</text>
<text x="26.80" y="395.75" font-size="3.85" text-anchor="end" fill="#1a1a1a" textLength="6.57" lengthAdjust="spacingAndGlyphs" stroke="#1a1a1a" stroke-width="0.08">low</text>
<text x="26.80" y="399.85" font-size="3.85" text-anchor="end" fill="#ff0000" textLength="8.39" lengthAdjust="spacingAndGlyphs" stroke="#ff0000" stroke-width="0.08">high</text>
<text x="37.40" y="395.99" font-size="3.85" text-anchor="middle" fill="#1a1a1a" textLength="7.35" lengthAdjust="spacingAndGlyphs" stroke="#1a1a1a" stroke-width="0.08">262</text>
<text x="37.40" y="400.09" font-size="3.85" text-anchor="middle" fill="#ff0000" textLength="4.90" lengthAdjust="spacingAndGlyphs" stroke="#ff0000" stroke-width="0.08">87</text>
<text x="63.80" y="395.99" font-size="3.85" text-anchor="middle" fill="#1a1a1a" textLength="7.35" lengthAdjust="spacingAndGlyphs" stroke="#1a1a1a" stroke-width="0.08">161</text>
<text x="63.80" y="400.09" font-size="3.85" text-anchor="middle" fill="#ff0000" textLength="4.90" lengthAdjust="spacingAndGlyphs" stroke="#ff0000" stroke-width="0.08">63</text>
<text x="90.20" y="395.99" font-size="3.85" text-anchor="middle" fill="#1a1a1a" textLength="4.90" lengthAdjust="spacingAndGlyphs" stroke="#1a1a1a" stroke-width="0.08">42</text>
<text x="90.20" y="400.09" font-size="3.85" text-anchor="middle" fill="#ff0000" textLength="4.90" lengthAdjust="spacingAndGlyphs" stroke="#ff0000" stroke-width="0.08">29</text>
<text x="116.60" y="395.99" font-size="3.85" text-anchor="middle" fill="#1a1a1a" textLength="2.45" lengthAdjust="spacingAndGlyphs" stroke="#1a1a1a" stroke-width="0.08">9</text>
<text x="116.60" y="400.09" font-size="3.85" text-anchor="middle" fill="#ff0000" textLength="4.90" lengthAdjust="spacingAndGlyphs" stroke="#ff0000" stroke-width="0.08">15</text>
<text x="143.00" y="395.99" font-size="3.85" text-anchor="middle" fill="#1a1a1a" textLength="2.45" lengthAdjust="spacingAndGlyphs" stroke="#1a1a1a" stroke-width="0.08">2</text>
<text x="143.00" y="400.09" font-size="3.85" text-anchor="middle" fill="#ff0000" textLength="2.45" lengthAdjust="spacingAndGlyphs" stroke="#ff0000" stroke-width="0.08">2</text>
<path d="M37.70,274.90 L43.60,276.30" fill="none" stroke="#000" stroke-width="1.8" stroke-linejoin="round"/>
<path d="M43.60,276.30 L45.40,278.60 L47.70,282.80 L50.10,286.30 L53.60,290.50 L57.20,294.60" fill="none" stroke="#000" stroke-width="1.1" stroke-linejoin="round"/>
<path d="M57.20,294.60 L61.90,297.60 L66.60,299.90 L71.40,302.30 L77.30,304.60 L82.00,305.60 L87.90,305.60 L90.10,306.10 L97.10,306.70 L99.00,308.60" fill="none" stroke="#000" stroke-width="1.8" stroke-linejoin="round"/>
<path d="M99.00,308.60 H100.30 V311.20 H146.70 V311.20" fill="none" stroke="#555" stroke-width="0.75"/>
<path d="M37.70,274.90 L43.00,275.70 L48.90,276.30 L51.90,278.00 L53.60,279.80 L55.40,283.40 L58.40,286.30 L61.90,288.70 L65.50,289.90 L70.20,291.00 L73.70,292.20 L77.30,293.60 L82.00,293.60 L85.00,295.90 L87.50,297.20" fill="none" stroke="#ff0000" stroke-width="1.05" stroke-linejoin="round"/>
<path d="M87.50,297.20 H89.50 V300.40 H146.70 V300.40" fill="none" stroke="#ff3030" stroke-width="0.75"/>
<rect x="212.30" y="270.20" width="119.00" height="98.50" fill="none" stroke="#b4b4b4" stroke-width="1"/>
<line x1="210.30" y1="365.20" x2="212.30" y2="365.20" stroke="#b4b4b4" stroke-width="1"/>
<text x="206.57" y="365.20" font-size="5.2" text-anchor="middle" fill="#1a1a1a" transform="rotate(-90 206.57 365.20)" textLength="8.27" lengthAdjust="spacingAndGlyphs" stroke="#1a1a1a" stroke-width="0.18">0.0</text>
<line x1="210.30" y1="346.82" x2="212.30" y2="346.82" stroke="#b4b4b4" stroke-width="1"/>
<text x="206.57" y="346.82" font-size="5.2" text-anchor="middle" fill="#1a1a1a" transform="rotate(-90 206.57 346.82)" textLength="8.27" lengthAdjust="spacingAndGlyphs" stroke="#1a1a1a" stroke-width="0.18">0.2</text>
<line x1="210.30" y1="328.44" x2="212.30" y2="328.44" stroke="#b4b4b4" stroke-width="1"/>
<text x="206.57" y="328.44" font-size="5.2" text-anchor="middle" fill="#1a1a1a" transform="rotate(-90 206.57 328.44)" textLength="8.27" lengthAdjust="spacingAndGlyphs" stroke="#1a1a1a" stroke-width="0.18">0.4</text>
<line x1="210.30" y1="310.06" x2="212.30" y2="310.06" stroke="#b4b4b4" stroke-width="1"/>
<text x="206.57" y="310.06" font-size="5.2" text-anchor="middle" fill="#1a1a1a" transform="rotate(-90 206.57 310.06)" textLength="8.27" lengthAdjust="spacingAndGlyphs" stroke="#1a1a1a" stroke-width="0.18">0.6</text>
<line x1="210.30" y1="291.68" x2="212.30" y2="291.68" stroke="#b4b4b4" stroke-width="1"/>
<text x="206.57" y="291.68" font-size="5.2" text-anchor="middle" fill="#1a1a1a" transform="rotate(-90 206.57 291.68)" textLength="8.27" lengthAdjust="spacingAndGlyphs" stroke="#1a1a1a" stroke-width="0.18">0.8</text>
<line x1="210.30" y1="273.30" x2="212.30" y2="273.30" stroke="#b4b4b4" stroke-width="1"/>
<text x="206.57" y="273.30" font-size="5.2" text-anchor="middle" fill="#1a1a1a" transform="rotate(-90 206.57 273.30)" textLength="8.27" lengthAdjust="spacingAndGlyphs" stroke="#1a1a1a" stroke-width="0.18">1.0</text>
<text x="197.04" y="319.45" font-size="5.55" text-anchor="middle" fill="#1a1a1a" transform="rotate(-90 197.04 319.45)" textLength="29.34" lengthAdjust="spacingAndGlyphs" stroke="#1a1a1a" stroke-width="0.18">Probability</text>
<line x1="216.40" y1="368.70" x2="216.40" y2="370.70" stroke="#b4b4b4" stroke-width="1"/>
<text x="216.40" y="377.57" font-size="5.2" text-anchor="middle" fill="#1a1a1a" textLength="3.31" lengthAdjust="spacingAndGlyphs" stroke="#1a1a1a" stroke-width="0.18">0</text>
<line x1="243.20" y1="368.70" x2="243.20" y2="370.70" stroke="#b4b4b4" stroke-width="1"/>
<text x="243.20" y="377.57" font-size="5.2" text-anchor="middle" fill="#1a1a1a" textLength="6.62" lengthAdjust="spacingAndGlyphs" stroke="#1a1a1a" stroke-width="0.18">50</text>
<line x1="270.00" y1="368.70" x2="270.00" y2="370.70" stroke="#b4b4b4" stroke-width="1"/>
<text x="270.00" y="377.57" font-size="5.2" text-anchor="middle" fill="#1a1a1a" textLength="9.93" lengthAdjust="spacingAndGlyphs" stroke="#1a1a1a" stroke-width="0.18">100</text>
<line x1="296.80" y1="368.70" x2="296.80" y2="370.70" stroke="#b4b4b4" stroke-width="1"/>
<text x="296.80" y="377.57" font-size="5.2" text-anchor="middle" fill="#1a1a1a" textLength="9.93" lengthAdjust="spacingAndGlyphs" stroke="#1a1a1a" stroke-width="0.18">150</text>
<line x1="323.60" y1="368.70" x2="323.60" y2="370.70" stroke="#b4b4b4" stroke-width="1"/>
<text x="323.60" y="377.57" font-size="5.2" text-anchor="middle" fill="#1a1a1a" textLength="9.93" lengthAdjust="spacingAndGlyphs" stroke="#1a1a1a" stroke-width="0.18">200</text>
<text x="272.20" y="386.56" font-size="5.55" text-anchor="middle" fill="#1a1a1a" textLength="40.58" lengthAdjust="spacingAndGlyphs" stroke="#1a1a1a" stroke-width="0.18">Time (months)</text>
<text x="329.20" y="277.69" font-size="5.65" text-anchor="end" fill="#1a1a1a" textLength="66.08" lengthAdjust="spacingAndGlyphs" stroke="#1a1a1a" stroke-width="0.18">HR = 0.57 (0.38 - 0.85)</text>
<text x="329.20" y="284.59" font-size="5.65" text-anchor="end" fill="#1a1a1a" textLength="54.55" lengthAdjust="spacingAndGlyphs" stroke="#1a1a1a" stroke-width="0.18">logrank P = 0.0056</text>
<text x="214.60" y="350.56" font-size="5.55" text-anchor="start" fill="#1a1a1a" textLength="30.13" lengthAdjust="spacingAndGlyphs" stroke="#1a1a1a" stroke-width="0.18">Expression</text>
<line x1="217.00" y1="357.20" x2="227.60" y2="357.20" stroke="#c4c4c4" stroke-width="1"/>
<line x1="217.00" y1="363.20" x2="227.60" y2="363.20" stroke="#ffa0a0" stroke-width="1"/>
<text x="233.00" y="358.87" font-size="5.55" text-anchor="start" fill="#1a1a1a" textLength="9.48" lengthAdjust="spacingAndGlyphs" stroke="#1a1a1a" stroke-width="0.18">low</text>
<text x="233.00" y="364.87" font-size="5.55" text-anchor="start" fill="#1a1a1a" textLength="12.10" lengthAdjust="spacingAndGlyphs" stroke="#1a1a1a" stroke-width="0.18">high</text>
<text x="211.80" y="391.35" font-size="3.85" text-anchor="start" fill="#1a1a1a" textLength="28.67" lengthAdjust="spacingAndGlyphs" stroke="#1a1a1a" stroke-width="0.08">Number at risk</text>
<text x="205.60" y="395.75" font-size="3.85" text-anchor="end" fill="#1a1a1a" textLength="6.57" lengthAdjust="spacingAndGlyphs" stroke="#1a1a1a" stroke-width="0.08">low</text>
<text x="205.60" y="399.95" font-size="3.85" text-anchor="end" fill="#ff0000" textLength="8.39" lengthAdjust="spacingAndGlyphs" stroke="#ff0000" stroke-width="0.08">high</text>
<text x="216.40" y="395.99" font-size="3.85" text-anchor="middle" fill="#1a1a1a" textLength="7.35" lengthAdjust="spacingAndGlyphs" stroke="#1a1a1a" stroke-width="0.08">388</text>
<text x="216.40" y="400.19" font-size="3.85" text-anchor="middle" fill="#ff0000" textLength="7.35" lengthAdjust="spacingAndGlyphs" stroke="#ff0000" stroke-width="0.08">130</text>
<text x="243.20" y="395.99" font-size="3.85" text-anchor="middle" fill="#1a1a1a" textLength="7.35" lengthAdjust="spacingAndGlyphs" stroke="#1a1a1a" stroke-width="0.08">180</text>
<text x="243.20" y="400.19" font-size="3.85" text-anchor="middle" fill="#ff0000" textLength="4.90" lengthAdjust="spacingAndGlyphs" stroke="#ff0000" stroke-width="0.08">78</text>
<text x="270.00" y="395.99" font-size="3.85" text-anchor="middle" fill="#1a1a1a" textLength="4.90" lengthAdjust="spacingAndGlyphs" stroke="#1a1a1a" stroke-width="0.08">49</text>
<text x="270.00" y="400.19" font-size="3.85" text-anchor="middle" fill="#ff0000" textLength="4.90" lengthAdjust="spacingAndGlyphs" stroke="#ff0000" stroke-width="0.08">28</text>
<text x="296.80" y="395.99" font-size="3.85" text-anchor="middle" fill="#1a1a1a" textLength="4.90" lengthAdjust="spacingAndGlyphs" stroke="#1a1a1a" stroke-width="0.08">10</text>
<text x="296.80" y="400.19" font-size="3.85" text-anchor="middle" fill="#ff0000" textLength="4.90" lengthAdjust="spacingAndGlyphs" stroke="#ff0000" stroke-width="0.08">14</text>
<text x="323.60" y="395.99" font-size="3.85" text-anchor="middle" fill="#1a1a1a" textLength="2.45" lengthAdjust="spacingAndGlyphs" stroke="#1a1a1a" stroke-width="0.08">2</text>
<text x="323.60" y="400.19" font-size="3.85" text-anchor="middle" fill="#ff0000" textLength="2.45" lengthAdjust="spacingAndGlyphs" stroke="#ff0000" stroke-width="0.08">2</text>
<path d="M216.90,273.70 L220.00,275.50 L221.80,279.00" fill="none" stroke="#000" stroke-width="1.8" stroke-linejoin="round"/>
<path d="M221.80,279.00 L224.20,284.90 L226.00,289.60 L227.70,293.20 L230.10,297.30" fill="none" stroke="#000" stroke-width="1.3" stroke-linejoin="round"/>
<path d="M230.10,297.30 L233.60,300.90 L238.40,303.20 L244.30,304.40 L251.40,305.60 L257.30,306.80 L262.00,308.00 L266.70,310.30 L270.90,311.80" fill="none" stroke="#000" stroke-width="1.8" stroke-linejoin="round"/>
<path d="M270.90,311.80 H326.40 V311.80" fill="none" stroke="#555" stroke-width="0.75"/>
<path d="M216.90,273.70 L220.00,275.50 L221.80,277.80 L223.60,280.80 L226.50,283.70 L230.10,286.70 L233.60,289.00 L237.20,291.40 L243.10,291.40 L246.60,292.60 L250.20,293.50 L264.40,293.50" fill="none" stroke="#ff0000" stroke-width="1.2" stroke-linejoin="round"/>
<path d="M264.40,293.50 H267.30 V296.10 H270.90 V298.40 H326.40 V298.40" fill="none" stroke="#ff3030" stroke-width="0.75"/>
<rect x="392.90" y="269.60" width="120.10" height="99.80" fill="none" stroke="#b4b4b4" stroke-width="1"/>
<line x1="390.90" y1="365.20" x2="392.90" y2="365.20" stroke="#b4b4b4" stroke-width="1"/>
<text x="387.67" y="365.20" font-size="5.2" text-anchor="middle" fill="#1a1a1a" transform="rotate(-90 387.67 365.20)" textLength="8.27" lengthAdjust="spacingAndGlyphs" stroke="#1a1a1a" stroke-width="0.18">0.0</text>
<line x1="390.90" y1="346.82" x2="392.90" y2="346.82" stroke="#b4b4b4" stroke-width="1"/>
<text x="387.67" y="346.82" font-size="5.2" text-anchor="middle" fill="#1a1a1a" transform="rotate(-90 387.67 346.82)" textLength="8.27" lengthAdjust="spacingAndGlyphs" stroke="#1a1a1a" stroke-width="0.18">0.2</text>
<line x1="390.90" y1="328.44" x2="392.90" y2="328.44" stroke="#b4b4b4" stroke-width="1"/>
<text x="387.67" y="328.44" font-size="5.2" text-anchor="middle" fill="#1a1a1a" transform="rotate(-90 387.67 328.44)" textLength="8.27" lengthAdjust="spacingAndGlyphs" stroke="#1a1a1a" stroke-width="0.18">0.4</text>
<line x1="390.90" y1="310.06" x2="392.90" y2="310.06" stroke="#b4b4b4" stroke-width="1"/>
<text x="387.67" y="310.06" font-size="5.2" text-anchor="middle" fill="#1a1a1a" transform="rotate(-90 387.67 310.06)" textLength="8.27" lengthAdjust="spacingAndGlyphs" stroke="#1a1a1a" stroke-width="0.18">0.6</text>
<line x1="390.90" y1="291.68" x2="392.90" y2="291.68" stroke="#b4b4b4" stroke-width="1"/>
<text x="387.67" y="291.68" font-size="5.2" text-anchor="middle" fill="#1a1a1a" transform="rotate(-90 387.67 291.68)" textLength="8.27" lengthAdjust="spacingAndGlyphs" stroke="#1a1a1a" stroke-width="0.18">0.8</text>
<line x1="390.90" y1="273.30" x2="392.90" y2="273.30" stroke="#b4b4b4" stroke-width="1"/>
<text x="387.67" y="273.30" font-size="5.2" text-anchor="middle" fill="#1a1a1a" transform="rotate(-90 387.67 273.30)" textLength="8.27" lengthAdjust="spacingAndGlyphs" stroke="#1a1a1a" stroke-width="0.18">1.0</text>
<text x="377.34" y="319.50" font-size="5.55" text-anchor="middle" fill="#1a1a1a" transform="rotate(-90 377.34 319.50)" textLength="29.34" lengthAdjust="spacingAndGlyphs" stroke="#1a1a1a" stroke-width="0.18">Probability</text>
<line x1="397.10" y1="369.40" x2="397.10" y2="371.40" stroke="#b4b4b4" stroke-width="1"/>
<text x="397.10" y="377.97" font-size="5.2" text-anchor="middle" fill="#1a1a1a" textLength="3.31" lengthAdjust="spacingAndGlyphs" stroke="#1a1a1a" stroke-width="0.18">0</text>
<line x1="424.10" y1="369.40" x2="424.10" y2="371.40" stroke="#b4b4b4" stroke-width="1"/>
<text x="424.10" y="377.97" font-size="5.2" text-anchor="middle" fill="#1a1a1a" textLength="6.62" lengthAdjust="spacingAndGlyphs" stroke="#1a1a1a" stroke-width="0.18">50</text>
<line x1="451.10" y1="369.40" x2="451.10" y2="371.40" stroke="#b4b4b4" stroke-width="1"/>
<text x="451.10" y="377.97" font-size="5.2" text-anchor="middle" fill="#1a1a1a" textLength="9.93" lengthAdjust="spacingAndGlyphs" stroke="#1a1a1a" stroke-width="0.18">100</text>
<line x1="478.10" y1="369.40" x2="478.10" y2="371.40" stroke="#b4b4b4" stroke-width="1"/>
<text x="478.10" y="377.97" font-size="5.2" text-anchor="middle" fill="#1a1a1a" textLength="9.93" lengthAdjust="spacingAndGlyphs" stroke="#1a1a1a" stroke-width="0.18">150</text>
<line x1="505.10" y1="369.40" x2="505.10" y2="371.40" stroke="#b4b4b4" stroke-width="1"/>
<text x="505.10" y="377.97" font-size="5.2" text-anchor="middle" fill="#1a1a1a" textLength="9.93" lengthAdjust="spacingAndGlyphs" stroke="#1a1a1a" stroke-width="0.18">200</text>
<text x="453.35" y="386.77" font-size="5.55" text-anchor="middle" fill="#1a1a1a" textLength="40.58" lengthAdjust="spacingAndGlyphs" stroke="#1a1a1a" stroke-width="0.18">Time (months)</text>
<text x="510.60" y="277.19" font-size="5.65" text-anchor="end" fill="#1a1a1a" textLength="66.08" lengthAdjust="spacingAndGlyphs" stroke="#1a1a1a" stroke-width="0.18">HR = 0.73 (0.54 - 0.98)</text>
<text x="510.60" y="284.19" font-size="5.65" text-anchor="end" fill="#1a1a1a" textLength="50.96" lengthAdjust="spacingAndGlyphs" stroke="#1a1a1a" stroke-width="0.18">logrank P = 0.036</text>
<text x="395.30" y="350.56" font-size="5.55" text-anchor="start" fill="#1a1a1a" textLength="30.13" lengthAdjust="spacingAndGlyphs" stroke="#1a1a1a" stroke-width="0.18">Expression</text>
<line x1="398.10" y1="357.20" x2="408.20" y2="357.20" stroke="#c4c4c4" stroke-width="1"/>
<line x1="398.10" y1="363.40" x2="408.20" y2="363.40" stroke="#ffa0a0" stroke-width="1"/>
<text x="413.80" y="358.87" font-size="5.55" text-anchor="start" fill="#1a1a1a" textLength="9.48" lengthAdjust="spacingAndGlyphs" stroke="#1a1a1a" stroke-width="0.18">low</text>
<text x="413.80" y="365.06" font-size="5.55" text-anchor="start" fill="#1a1a1a" textLength="12.10" lengthAdjust="spacingAndGlyphs" stroke="#1a1a1a" stroke-width="0.18">high</text>
<text x="392.70" y="391.85" font-size="3.85" text-anchor="start" fill="#1a1a1a" textLength="28.67" lengthAdjust="spacingAndGlyphs" stroke="#1a1a1a" stroke-width="0.08">Number at risk</text>
<text x="386.40" y="396.25" font-size="3.85" text-anchor="end" fill="#1a1a1a" textLength="6.57" lengthAdjust="spacingAndGlyphs" stroke="#1a1a1a" stroke-width="0.08">low</text>
<text x="386.40" y="400.35" font-size="3.85" text-anchor="end" fill="#ff0000" textLength="8.39" lengthAdjust="spacingAndGlyphs" stroke="#ff0000" stroke-width="0.08">high</text>
<text x="397.10" y="396.49" font-size="3.85" text-anchor="middle" fill="#1a1a1a" textLength="7.35" lengthAdjust="spacingAndGlyphs" stroke="#1a1a1a" stroke-width="0.08">597</text>
<text x="397.10" y="400.59" font-size="3.85" text-anchor="middle" fill="#ff0000" textLength="7.35" lengthAdjust="spacingAndGlyphs" stroke="#ff0000" stroke-width="0.08">199</text>
<text x="424.10" y="396.49" font-size="3.85" text-anchor="middle" fill="#1a1a1a" textLength="7.35" lengthAdjust="spacingAndGlyphs" stroke="#1a1a1a" stroke-width="0.08">269</text>
<text x="424.10" y="400.59" font-size="3.85" text-anchor="middle" fill="#ff0000" textLength="4.90" lengthAdjust="spacingAndGlyphs" stroke="#ff0000" stroke-width="0.08">96</text>
<text x="451.10" y="396.49" font-size="3.85" text-anchor="middle" fill="#1a1a1a" textLength="4.90" lengthAdjust="spacingAndGlyphs" stroke="#1a1a1a" stroke-width="0.08">83</text>
<text x="451.10" y="400.59" font-size="3.85" text-anchor="middle" fill="#ff0000" textLength="4.90" lengthAdjust="spacingAndGlyphs" stroke="#ff0000" stroke-width="0.08">28</text>
<text x="478.10" y="396.49" font-size="3.85" text-anchor="middle" fill="#1a1a1a" textLength="4.90" lengthAdjust="spacingAndGlyphs" stroke="#1a1a1a" stroke-width="0.08">14</text>
<text x="478.10" y="400.59" font-size="3.85" text-anchor="middle" fill="#ff0000" textLength="4.90" lengthAdjust="spacingAndGlyphs" stroke="#ff0000" stroke-width="0.08">13</text>
<text x="505.10" y="396.49" font-size="3.85" text-anchor="middle" fill="#1a1a1a" textLength="2.45" lengthAdjust="spacingAndGlyphs" stroke="#1a1a1a" stroke-width="0.08">2</text>
<text x="505.10" y="400.59" font-size="3.85" text-anchor="middle" fill="#ff0000" textLength="2.45" lengthAdjust="spacingAndGlyphs" stroke="#ff0000" stroke-width="0.08">2</text>
<path d="M397.30,273.70 L400.60,276.00 L402.40,279.60" fill="none" stroke="#000" stroke-width="1.9" stroke-linejoin="round"/>
<path d="M402.40,279.60 L404.20,284.90 L406.00,289.60 L407.70,293.20 L410.10,296.10" fill="none" stroke="#000" stroke-width="1.4" stroke-linejoin="round"/>
<path d="M410.10,296.10 L412.50,299.10 L416.00,301.50 L420.70,304.40 L425.50,306.20 L431.40,308.60 L437.30,309.10 L442.00,310.30 L445.60,311.50 L454.40,312.10 L462.90,312.30" fill="none" stroke="#000" stroke-width="1.9" stroke-linejoin="round"/>
<path d="M462.90,312.30 H465.20 V317.30 H508.70 V317.30" fill="none" stroke="#555" stroke-width="0.75"/>
<path d="M397.30,273.70 L400.60,276.00 L402.40,279.00 L403.60,282.50 L405.40,286.70 L407.70,290.20 L411.30,293.20 L416.00,294.40 L418.40,296.10 L421.90,298.20 L425.50,299.10 L430.20,300.90 L437.30,301.10 L449.10,301.10" fill="none" stroke="#ff0000" stroke-width="1.5" stroke-linejoin="round"/>
<path d="M449.10,301.10 H452.30 V303.20 H507.80 V303.20" fill="none" stroke="#ff3030" stroke-width="0.75"/>
<line x1="103.00" y1="84.60" x2="103.00" y2="86.80" stroke="#222" stroke-width="0.8"/>
<line x1="104.50" y1="84.60" x2="104.50" y2="86.80" stroke="#222" stroke-width="0.8"/>
<line x1="106.00" y1="84.60" x2="106.00" y2="86.80" stroke="#222" stroke-width="0.8"/>
<line x1="107.50" y1="84.60" x2="107.50" y2="86.80" stroke="#222" stroke-width="0.8"/>
<line x1="109.00" y1="84.60" x2="109.00" y2="86.80" stroke="#222" stroke-width="0.8"/>
<line x1="110.50" y1="84.60" x2="110.50" y2="86.80" stroke="#222" stroke-width="0.8"/>
<line x1="112.00" y1="84.60" x2="112.00" y2="86.80" stroke="#222" stroke-width="0.8"/>
<line x1="120.50" y1="84.60" x2="120.50" y2="86.80" stroke="#222" stroke-width="0.8"/>
<line x1="123.40" y1="84.60" x2="123.40" y2="86.80" stroke="#222" stroke-width="0.8"/>
<line x1="145.30" y1="84.60" x2="145.30" y2="86.80" stroke="#222" stroke-width="0.8"/>
<line x1="112.00" y1="109.10" x2="112.00" y2="111.30" stroke="#ff2020" stroke-width="0.8"/>
<line x1="113.50" y1="109.10" x2="113.50" y2="111.30" stroke="#ff2020" stroke-width="0.8"/>
<line x1="135.20" y1="109.10" x2="135.20" y2="111.30" stroke="#ff2020" stroke-width="0.8"/>
<line x1="88.00" y1="88.40" x2="88.00" y2="90.60" stroke="#ff2020" stroke-width="0.8"/>
<line x1="91.00" y1="88.40" x2="91.00" y2="90.60" stroke="#ff2020" stroke-width="0.8"/>
<line x1="93.00" y1="88.40" x2="93.00" y2="90.60" stroke="#ff2020" stroke-width="0.8"/>
<line x1="95.00" y1="88.40" x2="95.00" y2="90.60" stroke="#ff2020" stroke-width="0.8"/>
<line x1="97.00" y1="88.40" x2="97.00" y2="90.60" stroke="#ff2020" stroke-width="0.8"/>
<line x1="275.00" y1="78.30" x2="275.00" y2="80.50" stroke="#222" stroke-width="0.8"/>
<line x1="277.00" y1="78.30" x2="277.00" y2="80.50" stroke="#222" stroke-width="0.8"/>
<line x1="279.00" y1="78.30" x2="279.00" y2="80.50" stroke="#222" stroke-width="0.8"/>
<line x1="281.00" y1="78.30" x2="281.00" y2="80.50" stroke="#222" stroke-width="0.8"/>
<line x1="283.00" y1="78.30" x2="283.00" y2="80.50" stroke="#222" stroke-width="0.8"/>
<line x1="285.00" y1="78.30" x2="285.00" y2="80.50" stroke="#222" stroke-width="0.8"/>
<line x1="287.00" y1="78.30" x2="287.00" y2="80.50" stroke="#222" stroke-width="0.8"/>
<line x1="289.00" y1="78.30" x2="289.00" y2="80.50" stroke="#222" stroke-width="0.8"/>
<line x1="291.00" y1="78.30" x2="291.00" y2="80.50" stroke="#222" stroke-width="0.8"/>
<line x1="293.00" y1="78.30" x2="293.00" y2="80.50" stroke="#222" stroke-width="0.8"/>
<line x1="296.00" y1="78.30" x2="296.00" y2="80.50" stroke="#222" stroke-width="0.8"/>
<line x1="302.50" y1="78.30" x2="302.50" y2="80.50" stroke="#222" stroke-width="0.8"/>
<line x1="328.00" y1="112.30" x2="328.00" y2="114.50" stroke="#222" stroke-width="0.8"/>
<line x1="272.00" y1="88.10" x2="272.00" y2="90.30" stroke="#ff2020" stroke-width="0.8"/>
<line x1="276.00" y1="88.10" x2="276.00" y2="90.30" stroke="#ff2020" stroke-width="0.8"/>
<line x1="279.00" y1="88.10" x2="279.00" y2="90.30" stroke="#ff2020" stroke-width="0.8"/>
<line x1="282.00" y1="88.10" x2="282.00" y2="90.30" stroke="#ff2020" stroke-width="0.8"/>
<line x1="285.00" y1="88.10" x2="285.00" y2="90.30" stroke="#ff2020" stroke-width="0.8"/>
<line x1="289.50" y1="95.10" x2="289.50" y2="97.30" stroke="#ff2020" stroke-width="0.8"/>
<line x1="294.00" y1="105.30" x2="294.00" y2="107.50" stroke="#ff2020" stroke-width="0.8"/>
<line x1="296.50" y1="105.30" x2="296.50" y2="107.50" stroke="#ff2020" stroke-width="0.8"/>
<line x1="474.00" y1="95.50" x2="474.00" y2="97.70" stroke="#222" stroke-width="0.8"/>
<line x1="476.00" y1="95.50" x2="476.00" y2="97.70" stroke="#222" stroke-width="0.8"/>
<line x1="478.00" y1="95.50" x2="478.00" y2="97.70" stroke="#222" stroke-width="0.8"/>
<line x1="480.00" y1="95.50" x2="480.00" y2="97.70" stroke="#222" stroke-width="0.8"/>
<line x1="482.50" y1="95.50" x2="482.50" y2="97.70" stroke="#222" stroke-width="0.8"/>
<line x1="500.00" y1="116.20" x2="500.00" y2="118.40" stroke="#222" stroke-width="0.8"/>
<line x1="507.90" y1="116.20" x2="507.90" y2="118.40" stroke="#222" stroke-width="0.8"/>
<line x1="474.50" y1="101.40" x2="474.50" y2="103.60" stroke="#ff2020" stroke-width="0.8"/>
<line x1="477.00" y1="101.40" x2="477.00" y2="103.60" stroke="#ff2020" stroke-width="0.8"/>
<line x1="480.00" y1="101.40" x2="480.00" y2="103.60" stroke="#ff2020" stroke-width="0.8"/>
<line x1="484.00" y1="101.40" x2="484.00" y2="103.60" stroke="#ff2020" stroke-width="0.8"/>
<line x1="488.00" y1="101.40" x2="488.00" y2="103.60" stroke="#ff2020" stroke-width="0.8"/>
<line x1="494.90" y1="101.40" x2="494.90" y2="103.60" stroke="#ff2020" stroke-width="0.8"/>
<line x1="465.00" y1="96.70" x2="465.00" y2="98.90" stroke="#ff2020" stroke-width="0.8"/>
<line x1="467.00" y1="96.70" x2="467.00" y2="98.90" stroke="#ff2020" stroke-width="0.8"/>
<line x1="469.00" y1="96.70" x2="469.00" y2="98.90" stroke="#ff2020" stroke-width="0.8"/>
<line x1="471.00" y1="96.70" x2="471.00" y2="98.90" stroke="#ff2020" stroke-width="0.8"/>
<line x1="102.00" y1="310.10" x2="102.00" y2="312.30" stroke="#222" stroke-width="0.8"/>
<line x1="104.00" y1="310.10" x2="104.00" y2="312.30" stroke="#222" stroke-width="0.8"/>
<line x1="106.00" y1="310.10" x2="106.00" y2="312.30" stroke="#222" stroke-width="0.8"/>
<line x1="110.00" y1="310.10" x2="110.00" y2="312.30" stroke="#222" stroke-width="0.8"/>
<line x1="112.00" y1="310.10" x2="112.00" y2="312.30" stroke="#222" stroke-width="0.8"/>
<line x1="115.00" y1="310.10" x2="115.00" y2="312.30" stroke="#222" stroke-width="0.8"/>
<line x1="117.00" y1="310.10" x2="117.00" y2="312.30" stroke="#222" stroke-width="0.8"/>
<line x1="119.00" y1="310.10" x2="119.00" y2="312.30" stroke="#222" stroke-width="0.8"/>
<line x1="124.00" y1="310.10" x2="124.00" y2="312.30" stroke="#222" stroke-width="0.8"/>
<line x1="134.00" y1="310.10" x2="134.00" y2="312.30" stroke="#222" stroke-width="0.8"/>
<line x1="146.70" y1="310.10" x2="146.70" y2="312.30" stroke="#222" stroke-width="0.8"/>
<line x1="92.00" y1="299.30" x2="92.00" y2="301.50" stroke="#ff2020" stroke-width="0.8"/>
<line x1="95.00" y1="299.30" x2="95.00" y2="301.50" stroke="#ff2020" stroke-width="0.8"/>
<line x1="100.00" y1="299.30" x2="100.00" y2="301.50" stroke="#ff2020" stroke-width="0.8"/>
<line x1="105.00" y1="299.30" x2="105.00" y2="301.50" stroke="#ff2020" stroke-width="0.8"/>
<line x1="110.00" y1="299.30" x2="110.00" y2="301.50" stroke="#ff2020" stroke-width="0.8"/>
<line x1="112.00" y1="299.30" x2="112.00" y2="301.50" stroke="#ff2020" stroke-width="0.8"/>
<line x1="115.00" y1="299.30" x2="115.00" y2="301.50" stroke="#ff2020" stroke-width="0.8"/>
<line x1="117.00" y1="299.30" x2="117.00" y2="301.50" stroke="#ff2020" stroke-width="0.8"/>
<line x1="125.00" y1="299.30" x2="125.00" y2="301.50" stroke="#ff2020" stroke-width="0.8"/>
<line x1="128.00" y1="299.30" x2="128.00" y2="301.50" stroke="#ff2020" stroke-width="0.8"/>
<line x1="130.00" y1="299.30" x2="130.00" y2="301.50" stroke="#ff2020" stroke-width="0.8"/>
<line x1="134.00" y1="299.30" x2="134.00" y2="301.50" stroke="#ff2020" stroke-width="0.8"/>
<line x1="137.00" y1="299.30" x2="137.00" y2="301.50" stroke="#ff2020" stroke-width="0.8"/>
<line x1="142.00" y1="299.30" x2="142.00" y2="301.50" stroke="#ff2020" stroke-width="0.8"/>
<line x1="146.70" y1="299.30" x2="146.70" y2="301.50" stroke="#ff2020" stroke-width="0.8"/>
<line x1="272.00" y1="310.70" x2="272.00" y2="312.90" stroke="#222" stroke-width="0.8"/>
<line x1="274.00" y1="310.70" x2="274.00" y2="312.90" stroke="#222" stroke-width="0.8"/>
<line x1="276.00" y1="310.70" x2="276.00" y2="312.90" stroke="#222" stroke-width="0.8"/>
<line x1="278.00" y1="310.70" x2="278.00" y2="312.90" stroke="#222" stroke-width="0.8"/>
<line x1="280.00" y1="310.70" x2="280.00" y2="312.90" stroke="#222" stroke-width="0.8"/>
<line x1="282.00" y1="310.70" x2="282.00" y2="312.90" stroke="#222" stroke-width="0.8"/>
<line x1="284.00" y1="310.70" x2="284.00" y2="312.90" stroke="#222" stroke-width="0.8"/>
<line x1="286.00" y1="310.70" x2="286.00" y2="312.90" stroke="#222" stroke-width="0.8"/>
<line x1="288.00" y1="310.70" x2="288.00" y2="312.90" stroke="#222" stroke-width="0.8"/>
<line x1="290.00" y1="310.70" x2="290.00" y2="312.90" stroke="#222" stroke-width="0.8"/>
<line x1="295.00" y1="310.70" x2="295.00" y2="312.90" stroke="#222" stroke-width="0.8"/>
<line x1="298.00" y1="310.70" x2="298.00" y2="312.90" stroke="#222" stroke-width="0.8"/>
<line x1="303.00" y1="310.70" x2="303.00" y2="312.90" stroke="#222" stroke-width="0.8"/>
<line x1="307.00" y1="310.70" x2="307.00" y2="312.90" stroke="#222" stroke-width="0.8"/>
<line x1="316.00" y1="310.70" x2="316.00" y2="312.90" stroke="#222" stroke-width="0.8"/>
<line x1="326.40" y1="310.70" x2="326.40" y2="312.90" stroke="#222" stroke-width="0.8"/>
<line x1="274.00" y1="297.30" x2="274.00" y2="299.50" stroke="#ff2020" stroke-width="0.8"/>
<line x1="277.00" y1="297.30" x2="277.00" y2="299.50" stroke="#ff2020" stroke-width="0.8"/>
<line x1="280.00" y1="297.30" x2="280.00" y2="299.50" stroke="#ff2020" stroke-width="0.8"/>
<line x1="285.00" y1="297.30" x2="285.00" y2="299.50" stroke="#ff2020" stroke-width="0.8"/>
<line x1="290.00" y1="297.30" x2="290.00" y2="299.50" stroke="#ff2020" stroke-width="0.8"/>
<line x1="296.00" y1="297.30" x2="296.00" y2="299.50" stroke="#ff2020" stroke-width="0.8"/>
<line x1="300.00" y1="297.30" x2="300.00" y2="299.50" stroke="#ff2020" stroke-width="0.8"/>
<line x1="304.00" y1="297.30" x2="304.00" y2="299.50" stroke="#ff2020" stroke-width="0.8"/>
<line x1="308.00" y1="297.30" x2="308.00" y2="299.50" stroke="#ff2020" stroke-width="0.8"/>
<line x1="312.00" y1="297.30" x2="312.00" y2="299.50" stroke="#ff2020" stroke-width="0.8"/>
<line x1="316.00" y1="297.30" x2="316.00" y2="299.50" stroke="#ff2020" stroke-width="0.8"/>
<line x1="320.00" y1="297.30" x2="320.00" y2="299.50" stroke="#ff2020" stroke-width="0.8"/>
<line x1="326.40" y1="297.30" x2="326.40" y2="299.50" stroke="#ff2020" stroke-width="0.8"/>
<line x1="252.00" y1="292.40" x2="252.00" y2="294.60" stroke="#ff2020" stroke-width="0.8"/>
<line x1="255.00" y1="292.40" x2="255.00" y2="294.60" stroke="#ff2020" stroke-width="0.8"/>
<line x1="258.00" y1="292.40" x2="258.00" y2="294.60" stroke="#ff2020" stroke-width="0.8"/>
<line x1="261.00" y1="292.40" x2="261.00" y2="294.60" stroke="#ff2020" stroke-width="0.8"/>
<line x1="264.00" y1="292.40" x2="264.00" y2="294.60" stroke="#ff2020" stroke-width="0.8"/>
<line x1="467.00" y1="316.20" x2="467.00" y2="318.40" stroke="#222" stroke-width="0.8"/>
<line x1="469.00" y1="316.20" x2="469.00" y2="318.40" stroke="#222" stroke-width="0.8"/>
<line x1="471.00" y1="316.20" x2="471.00" y2="318.40" stroke="#222" stroke-width="0.8"/>
<line x1="478.00" y1="316.20" x2="478.00" y2="318.40" stroke="#222" stroke-width="0.8"/>
<line x1="483.00" y1="316.20" x2="483.00" y2="318.40" stroke="#222" stroke-width="0.8"/>
<line x1="490.00" y1="316.20" x2="490.00" y2="318.40" stroke="#222" stroke-width="0.8"/>
<line x1="495.00" y1="316.20" x2="495.00" y2="318.40" stroke="#222" stroke-width="0.8"/>
<line x1="503.00" y1="316.20" x2="503.00" y2="318.40" stroke="#222" stroke-width="0.8"/>
<line x1="508.70" y1="316.20" x2="508.70" y2="318.40" stroke="#222" stroke-width="0.8"/>
<line x1="455.00" y1="302.10" x2="455.00" y2="304.30" stroke="#ff2020" stroke-width="0.8"/>
<line x1="458.00" y1="302.10" x2="458.00" y2="304.30" stroke="#ff2020" stroke-width="0.8"/>
<line x1="462.00" y1="302.10" x2="462.00" y2="304.30" stroke="#ff2020" stroke-width="0.8"/>
<line x1="470.00" y1="302.10" x2="470.00" y2="304.30" stroke="#ff2020" stroke-width="0.8"/>
<line x1="474.00" y1="302.10" x2="474.00" y2="304.30" stroke="#ff2020" stroke-width="0.8"/>
<line x1="477.00" y1="302.10" x2="477.00" y2="304.30" stroke="#ff2020" stroke-width="0.8"/>
<line x1="479.00" y1="302.10" x2="479.00" y2="304.30" stroke="#ff2020" stroke-width="0.8"/>
<line x1="483.00" y1="302.10" x2="483.00" y2="304.30" stroke="#ff2020" stroke-width="0.8"/>
<line x1="490.00" y1="302.10" x2="490.00" y2="304.30" stroke="#ff2020" stroke-width="0.8"/>
<line x1="497.00" y1="302.10" x2="497.00" y2="304.30" stroke="#ff2020" stroke-width="0.8"/>
<line x1="507.80" y1="302.10" x2="507.80" y2="304.30" stroke="#ff2020" stroke-width="0.8"/>
<line x1="438.00" y1="300.00" x2="438.00" y2="302.20" stroke="#ff2020" stroke-width="0.8"/>
<line x1="440.00" y1="300.00" x2="440.00" y2="302.20" stroke="#ff2020" stroke-width="0.8"/>
<line x1="442.00" y1="300.00" x2="442.00" y2="302.20" stroke="#ff2020" stroke-width="0.8"/>
<line x1="444.00" y1="300.00" x2="444.00" y2="302.20" stroke="#ff2020" stroke-width="0.8"/>
<line x1="446.00" y1="300.00" x2="446.00" y2="302.20" stroke="#ff2020" stroke-width="0.8"/>
<line x1="448.00" y1="300.00" x2="448.00" y2="302.20" stroke="#ff2020" stroke-width="0.8"/>
<text x="21.20" y="30.20" font-size="17.3" text-anchor="start" font-weight="bold" fill="#111">(A)</text>
<text x="180.80" y="31.10" font-size="17.3" text-anchor="start" font-weight="bold" fill="#111">(B)</text>
<text x="386.20" y="31.10" font-size="17.3" text-anchor="start" font-weight="bold" fill="#111">(C)</text>
<text x="21.30" y="257.60" font-size="17.3" text-anchor="start" font-weight="bold" fill="#111">(D)</text>
<text x="182.40" y="257.60" font-size="17.3" text-anchor="start" font-weight="bold" fill="#111">(E)</text>
<text x="387.60" y="257.60" font-size="17.3" text-anchor="start" font-weight="bold" fill="#111">(F)</text>
<text x="217.30" y="18.30" font-size="15.0" text-anchor="start" font-weight="bold" fill="#111">ER&#945; positive</text>
<text x="217.60" y="247.30" font-size="15.0" text-anchor="start" font-weight="bold" fill="#111">ER&#945; negative</text>
<text x="71.60" y="36.30" font-size="12.5" text-anchor="start" font-weight="bold" fill="#111">OS</text>
<text x="247.80" y="35.20" font-size="12.5" text-anchor="start" font-weight="bold" fill="#111">DMFS</text>
<text x="439.30" y="36.50" font-size="12.8" text-anchor="start" font-weight="bold" fill="#111">RFS</text>
<text x="59.40" y="46.30" font-size="5.45" text-anchor="start" font-weight="bold" fill="#111" textLength="16.45" lengthAdjust="spacingAndGlyphs" stroke="#111" stroke-width="0.25">TUBB</text>
<text x="239.80" y="43.90" font-size="5.45" text-anchor="start" font-weight="bold" fill="#111" textLength="16.45" lengthAdjust="spacingAndGlyphs" stroke="#111" stroke-width="0.25">TUBB</text>
<text x="421.50" y="47.10" font-size="5.45" text-anchor="start" font-weight="bold" fill="#111" textLength="16.45" lengthAdjust="spacingAndGlyphs" stroke="#111" stroke-width="0.25">TUBB</text>
<text x="59.90" y="264.30" font-size="5.45" text-anchor="start" font-weight="bold" fill="#111" textLength="16.45" lengthAdjust="spacingAndGlyphs" stroke="#111" stroke-width="0.25">TUBB</text>
<text x="239.90" y="262.70" font-size="5.45" text-anchor="start" font-weight="bold" fill="#111" textLength="16.45" lengthAdjust="spacingAndGlyphs" stroke="#111" stroke-width="0.25">TUBB</text>
<text x="420.50" y="262.10" font-size="5.45" text-anchor="start" font-weight="bold" fill="#111" textLength="16.45" lengthAdjust="spacingAndGlyphs" stroke="#111" stroke-width="0.25">TUBB</text>
<rect x="8.50" y="219.20" width="172.00" height="8.10" fill="none" stroke="#c8c8d0" stroke-width="0.9"/>
<rect x="8.50" y="211.50" width="172.00" height="7.70" fill="#dcdcf8" stroke="#bcbce8" stroke-width="0.9"/>
<line x1="93.60" y1="211.50" x2="93.60" y2="219.20" stroke="#b8b8e0" stroke-width="0.8"/>
<line x1="93.60" y1="219.20" x2="93.60" y2="227.30" stroke="#d0d0d8" stroke-width="0.8"/>
<text x="51.05" y="217.19" font-size="5.25" text-anchor="middle" font-weight="bold" fill="#141430" stroke="#141430" stroke-width="0.22">Low expression cohort (months)</text>
<text x="137.05" y="217.19" font-size="5.25" text-anchor="middle" font-weight="bold" fill="#141430" stroke="#141430" stroke-width="0.22">High expression cohort (months)</text>
<text x="51.05" y="225.00" font-size="5.0" text-anchor="middle" fill="#222">173.72</text>
<text x="137.05" y="225.00" font-size="5.0" text-anchor="middle" fill="#222">86</text>
<rect x="188.30" y="219.60" width="175.10" height="8.80" fill="none" stroke="#c8c8d0" stroke-width="0.9"/>
<rect x="188.30" y="212.00" width="175.10" height="7.60" fill="#dcdcf8" stroke="#bcbce8" stroke-width="0.9"/>
<line x1="275.50" y1="212.00" x2="275.50" y2="219.60" stroke="#b8b8e0" stroke-width="0.8"/>
<line x1="275.50" y1="219.60" x2="275.50" y2="228.40" stroke="#d0d0d8" stroke-width="0.8"/>
<text x="231.90" y="217.64" font-size="5.25" text-anchor="middle" font-weight="bold" fill="#141430" stroke="#141430" stroke-width="0.22">Low expression cohort (months)</text>
<text x="319.45" y="217.64" font-size="5.25" text-anchor="middle" font-weight="bold" fill="#141430" stroke="#141430" stroke-width="0.22">High expression cohort (months)</text>
<text x="231.90" y="225.75" font-size="5.0" text-anchor="middle" fill="#222">236.22</text>
<text x="319.45" y="225.75" font-size="5.0" text-anchor="middle" fill="#222">205.64</text>
<rect x="371.30" y="218.80" width="171.70" height="9.00" fill="none" stroke="#c8c8d0" stroke-width="0.9"/>
<rect x="371.30" y="211.50" width="171.70" height="7.30" fill="#dcdcf8" stroke="#bcbce8" stroke-width="0.9"/>
<line x1="456.70" y1="211.50" x2="456.70" y2="218.80" stroke="#b8b8e0" stroke-width="0.8"/>
<line x1="456.70" y1="218.80" x2="456.70" y2="227.80" stroke="#d0d0d8" stroke-width="0.8"/>
<text x="414.00" y="216.99" font-size="5.25" text-anchor="middle" font-weight="bold" fill="#141430" stroke="#141430" stroke-width="0.22">Low expression cohort (months)</text>
<text x="499.85" y="216.99" font-size="5.25" text-anchor="middle" font-weight="bold" fill="#141430" stroke="#141430" stroke-width="0.22">High expression cohort (months)</text>
<text x="414.00" y="225.05" font-size="5.0" text-anchor="middle" fill="#222">216.66</text>
<text x="499.85" y="225.05" font-size="5.0" text-anchor="middle" fill="#222">191.21</text>
<rect x="10.40" y="437.40" width="171.80" height="8.20" fill="none" stroke="#c8c8d0" stroke-width="0.9"/>
<rect x="10.40" y="430.20" width="171.80" height="7.20" fill="#dcdcf8" stroke="#bcbce8" stroke-width="0.9"/>
<line x1="95.50" y1="430.20" x2="95.50" y2="437.40" stroke="#b8b8e0" stroke-width="0.8"/>
<line x1="95.50" y1="437.40" x2="95.50" y2="445.60" stroke="#d0d0d8" stroke-width="0.8"/>
<text x="52.95" y="435.64" font-size="5.25" text-anchor="middle" font-weight="bold" fill="#141430" stroke="#141430" stroke-width="0.22">Low expression cohort (months)</text>
<text x="138.85" y="435.64" font-size="5.25" text-anchor="middle" font-weight="bold" fill="#141430" stroke="#141430" stroke-width="0.22">High expression cohort (months)</text>
<text x="52.95" y="443.25" font-size="5.0" text-anchor="middle" fill="#222">47.21</text>
<text x="138.85" y="443.25" font-size="5.0" text-anchor="middle" fill="#222">95.08</text>
<rect x="189.00" y="437.80" width="174.00" height="8.60" fill="none" stroke="#c8c8d0" stroke-width="0.9"/>
<rect x="189.00" y="430.90" width="174.00" height="6.90" fill="#dcdcf8" stroke="#bcbce8" stroke-width="0.9"/>
<line x1="275.50" y1="430.90" x2="275.50" y2="437.80" stroke="#b8b8e0" stroke-width="0.8"/>
<line x1="275.50" y1="437.80" x2="275.50" y2="446.40" stroke="#d0d0d8" stroke-width="0.8"/>
<text x="232.25" y="436.19" font-size="5.25" text-anchor="middle" font-weight="bold" fill="#141430" stroke="#141430" stroke-width="0.22">Low expression cohort (months)</text>
<text x="319.25" y="436.19" font-size="5.25" text-anchor="middle" font-weight="bold" fill="#141430" stroke="#141430" stroke-width="0.22">High expression cohort (months)</text>
<text x="232.25" y="443.85" font-size="5.0" text-anchor="middle" fill="#222">26.1</text>
<text x="319.25" y="443.85" font-size="5.0" text-anchor="middle" fill="#222">102.61</text>
<rect x="369.50" y="438.30" width="175.50" height="9.00" fill="none" stroke="#c8c8d0" stroke-width="0.9"/>
<rect x="369.50" y="431.30" width="175.50" height="7.00" fill="#dcdcf8" stroke="#bcbce8" stroke-width="0.9"/>
<line x1="456.70" y1="431.30" x2="456.70" y2="438.30" stroke="#b8b8e0" stroke-width="0.8"/>
<line x1="456.70" y1="438.30" x2="456.70" y2="447.30" stroke="#d0d0d8" stroke-width="0.8"/>
<text x="413.10" y="436.64" font-size="5.25" text-anchor="middle" font-weight="bold" fill="#141430" stroke="#141430" stroke-width="0.22">Low expression cohort (months)</text>
<text x="500.85" y="436.64" font-size="5.25" text-anchor="middle" font-weight="bold" fill="#141430" stroke="#141430" stroke-width="0.22">High expression cohort (months)</text>
<text x="413.10" y="444.55" font-size="5.0" text-anchor="middle" fill="#222">24.6</text>
<text x="500.85" y="444.55" font-size="5.0" text-anchor="middle" fill="#222">37</text>
</svg>
</body></html>
